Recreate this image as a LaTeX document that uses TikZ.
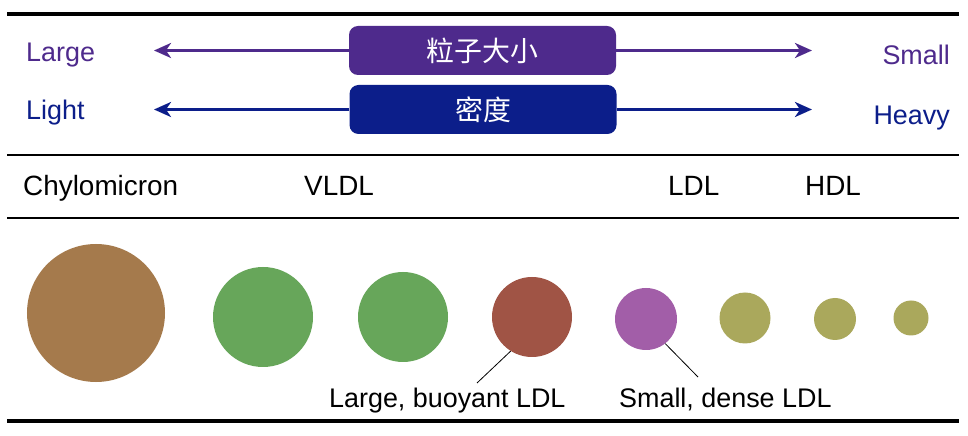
\documentclass[tikz,border=0pt]{standalone}
\usepackage{fontspec}
\setmainfont{Liberation Sans}
\newfontfamily\cjk{Noto Sans CJK SC}
\usepackage{tikz}
\usetikzlibrary{arrows.meta}
\definecolor{sizepurple}{RGB}{78,42,140}
\definecolor{densblue}{RGB}{12,30,138}
\definecolor{chylobrown}{RGB}{165,122,76}
\definecolor{vldlgreen}{RGB}{103,166,90}
\definecolor{ldlred}{RGB}{160,84,69}
\definecolor{ldlpurple}{RGB}{162,94,168}
\definecolor{hdlolive}{RGB}{170,168,92}
\tikzstyle{arrow} = [line width=2.8bp,-{Stealth[length=17bp,width=15bp,inset=5bp]}]
\tikzstyle{tag} = [anchor=base west, inner sep=0pt, font=\fontsize{27}{30}\selectfont]
\tikzstyle{classtag} = [tag, font=\fontsize{28}{31}\selectfont]
\tikzstyle{axisbox} = [rectangle, rounded corners=9bp, minimum width=267bp, minimum height=49bp,
text centered, text=white, font=\cjk\fontsize{28}{31}\selectfont]
\tikzstyle{particle} = [circle, inner sep=0pt]
\tikzstyle{rule} = [line width=3bp]
\tikzstyle{leader} = [line width=0.8bp]

\begin{document}
\begin{tikzpicture}[x=1bp,y=-1bp]
                 \useasboundingbox (0,0) rectangle (968,436);
                 \fill[white] (0,0) rectangle (968,436);
                 % rules
                 \draw [rule, line width=3.5bp] (7,14) -- (959,14);
                 \draw [rule, line width=2.5bp] (7,155) -- (959,155);
                 \draw [rule, line width=2.5bp] (7,218) -- (959,218);
                 \draw [rule, line width=4bp] (7,421) -- (959,421);
                 % scales
                 \node (size) [axisbox, fill=sizepurple] at (482.5,50.5) {粒子大小};
                 \node (dens) [axisbox, fill=densblue] at (483,109.5) {密度};
                 \coordinate (sizeL) at (154,50.5);
                 \coordinate (sizeR) at (812,50.5);
                 \coordinate (densL) at (154,109.5);
                 \coordinate (densR) at (812,109.5);
                 \draw [arrow, sizepurple] (size.west) -- (sizeL);
                 \draw [arrow, sizepurple] (size.east) -- (sizeR);
                 \draw [arrow, densblue] (dens.west) -- (densL);
                 \draw [arrow, densblue] (dens.east) -- (densR);
                 \node (large) [tag, text=sizepurple] at (26,62) {Large};
                 \node (small) [tag, anchor=base east, text=sizepurple] at (950,65) {Small};
                 \node (light) [tag, text=densblue] at (26,120) {Light};
                 \node (heavy) [tag, anchor=base east, text=densblue] at (950,125) {Heavy};
                 % classes
                 \node (chyloname) [classtag] at (23,196) {Chylomicron};
                 \node (vldlname) [classtag] at (304,196) {VLDL};
                 \node (ldlname) [classtag] at (668,196) {LDL};
                 \node (hdlname) [classtag] at (805,196) {HDL};
                 % particles
                 \node (chylo) [particle, fill=chylobrown, minimum size=138bp] at (96,313) {};
                 \node (vldlA) [particle, fill=vldlgreen, minimum size=100bp] at (263,317) {};
                 \node (vldlB) [particle, fill=vldlgreen, minimum size=90bp] at (403,317) {};
                 \node (ldlA) [particle, fill=ldlred, minimum size=80bp] at (532,317) {};
                 \node (ldlB) [particle, fill=ldlpurple, minimum size=62bp] at (646,319) {};
                 \node (hdlA) [particle, fill=hdlolive, minimum size=51bp] at (745,318) {};
                 \node (hdlB) [particle, fill=hdlolive, minimum size=42bp] at (835,319) {};
                 \node (hdlC) [particle, fill=hdlolive, minimum size=35bp] at (911,318) {};
                 % notes
                 \node (buoyant) [tag] at (329,407) {Large, buoyant LDL};
                 \node (dense) [tag] at (619,407) {Small, dense LDL};
                 \coordinate (buoyantTip) at (477,383);
                 \coordinate (denseTip) at (698,377);
                 \draw [leader] (ldlA.238) -- (buoyantTip);
                 \draw [leader] (ldlB.308) -- (denseTip);
             \end{tikzpicture}
\end{document}
